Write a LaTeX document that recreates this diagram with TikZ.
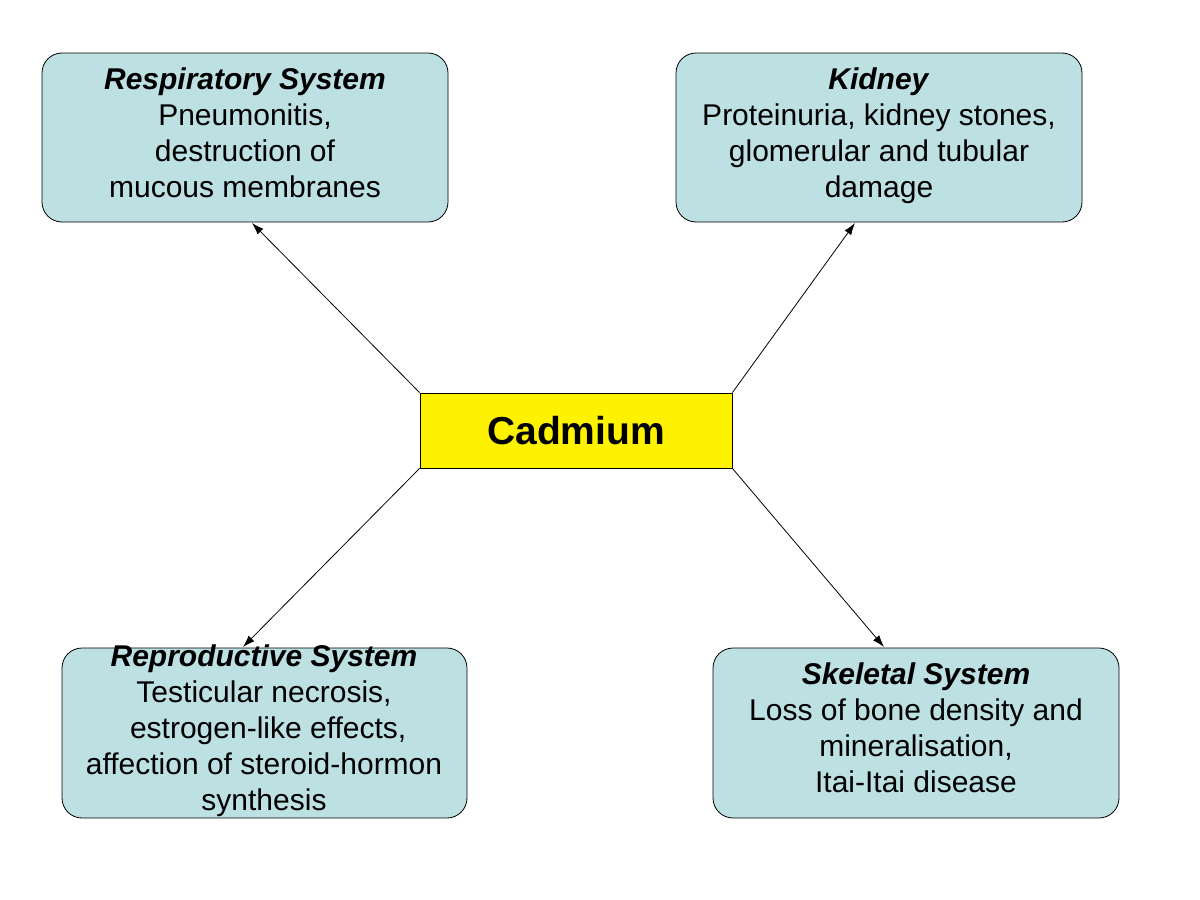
\documentclass[tikz,border=0pt]{standalone}
\usepackage{fontspec}
\setmainfont{Liberation Sans}
\usetikzlibrary{arrows.meta}
\definecolor{boxc}{HTML}{BDE0E3}
\begin{document}
\begin{tikzpicture}[x=1bp,y=-1bp,
  box/.style={draw=black,fill=boxc,rounded corners=20bp,line width=0.8bp},
  txt/.style={align=center,font=\fontsize{30bp}{36bp}\selectfont,inner sep=0},
  arr/.style={-{Latex[length=12bp,width=8bp]},line width=0.8bp}]
\useasboundingbox (0,0) rectangle (1200,900);
\draw[box] (42,53) rectangle (448,222);
\draw[box] (676,53) rectangle (1082,222);
\draw[box] (62,648) rectangle (467,818);
\draw[box] (713,648) rectangle (1119,818);
\node[draw=black,fill=yellow,line width=0.8bp,minimum width=312bp,minimum height=75bp,inner sep=0,
  font=\fontsize{39bp}{44bp}\selectfont\bfseries] (cad) at (576,430.5) {Cadmium};
\node[txt,anchor=north] (resp) at (245,68) {\textbf{\textit{Respiratory System}}\\Pneumonitis,\\destruction of\\mucous membranes};
\node[txt,anchor=north] (kid) at (879,68) {\textbf{\textit{Kidney}}\\Proteinuria, kidney stones,\\glomerular and tubular\\damage};
\node[txt,anchor=north] (rep) at (264,645) {\textbf{\textit{Reproductive System}}\\Testicular necrosis,\\\ estrogen-like effects,\\affection of steroid-hormon\\synthesis};
\node[txt,anchor=north] (ske) at (916,663) {\textbf{\textit{Skeletal System}}\\Loss of bone density and\\mineralisation,\\Itai-Itai disease};
\coordinate (rE) at (252,223);
\coordinate (kE) at (855,223);
\coordinate (pE) at (243,647);
\coordinate (sE) at (884,647);
\draw[arr] (cad.north west) -- (rE);
\draw[arr] (cad.north east) -- (kE);
\draw[arr] (cad.south west) -- (pE);
\draw[arr] (cad.south east) -- (sE);
\end{tikzpicture}
\end{document}
